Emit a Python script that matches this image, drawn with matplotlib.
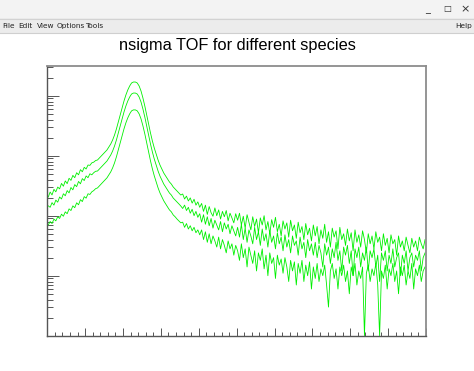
import matplotlib
matplotlib.use("Agg")
import matplotlib.pyplot as plt
from matplotlib.patches import Rectangle
from matplotlib.lines import Line2D
from matplotlib.ticker import MultipleLocator, LogLocator, NullFormatter
import numpy as np

title = "nsigma TOF for different species"
menu_items = ["File", "Edit", "View", "Options", "Tools"]
menu_x = [2, 18, 37, 57, 85]

x_min, x_max, n_bins = 0.0, 10.0, 200

species_a = [205, 248, 222, 275, 250, 300, 280, 345, 310, 380,
             342, 420, 388, 470, 430, 520, 480, 585, 540, 640,
             600, 700, 690, 760, 780, 830, 848, 916, 989, 1068,
             1153, 1245, 1396, 1567, 1828, 2210, 2790, 3650, 4770, 6240,
             8160, 10270, 12450, 14510, 16290, 16910, 16910, 16290, 14510, 11970,
             9160, 6730, 4770, 3370, 2390, 1759, 1343, 1068, 848, 700,
             600, 515, 459, 409, 365, 337, 301, 279, 258, 239,
             221, 230, 190, 212, 176, 198, 162, 188, 150, 170,
             138, 160, 118, 150, 105, 142, 112, 98, 135, 100,
             125, 88, 118, 96, 122, 82, 110, 92, 76, 108,
             84, 110, 70, 98, 62, 104, 78, 58, 96, 66,
             88, 52, 92, 70, 100, 58, 80, 50, 86, 64,
             94, 54, 72, 46, 82, 60, 76, 44, 84, 56,
             70, 42, 78, 52, 66, 40, 74, 48, 62, 38,
             70, 46, 66, 34, 58, 42, 72, 36, 54, 30,
             62, 44, 56, 28, 64, 40, 50, 32, 60, 38,
             52, 26, 58, 36, 48, 30, 56, 40, 24, 50,
             34, 46, 28, 54, 36, 44, 26, 50, 32, 42,
             24, 48, 34, 40, 22, 46, 30, 38, 26, 44,
             32, 24, 42, 30, 38, 26, 44, 34, 28, 40]

species_b = [146, 138, 165, 150, 182, 168, 205, 190, 232, 215,
             262, 240, 295, 270, 330, 305, 372, 340, 415, 385,
             460, 430, 500, 480, 520, 550, 555, 600, 648, 700,
             755, 815, 915, 1026, 1197, 1448, 1827, 2390, 3125, 4087,
             5345, 6727, 8155, 9504, 10670, 11076, 11076, 10670, 9504, 7840,
             6000, 4408, 3125, 2207, 1565, 1152, 880, 700, 555, 458,
             393, 337, 301, 268, 239, 221, 197, 183, 169, 157,
             145, 132, 150, 122, 138, 110, 128, 100, 118, 94,
             108, 78, 104, 72, 96, 68, 90, 62, 84, 70,
             58, 80, 54, 76, 60, 72, 50, 68, 56, 46,
             64, 44, 72, 40, 62, 36, 58, 46, 34, 64,
             40, 54, 32, 60, 38, 50, 30, 56, 36, 46,
             28, 52, 34, 44, 26, 48, 30, 40, 24, 46,
             32, 38, 22, 44, 28, 36, 20, 40, 26, 34,
             22, 36, 20, 32, 24, 14, 34, 22, 30, 16,
             28, 20, 36, 18, 26, 12, 30, 22, 32, 16,
             26, 10, 28, 20, 30, 14, 24, 18, 30, 12,
             26, 20, 28, 14, 22, 8, 24, 18, 26, 12,
             22, 16, 28, 14, 20, 24, 10, 22, 16, 26,
             12, 20, 24, 14, 22, 18, 26, 12, 20, 24]

species_c = [70, 80, 74, 88, 82, 96, 90, 106, 98, 116,
             108, 130, 122, 146, 136, 164, 152, 185, 172, 208,
             196, 232, 226, 250, 262, 282, 290, 314, 339, 366,
             395, 427, 479, 537, 627, 758, 957, 1252, 1636, 2140,
             2799, 3523, 4270, 4977, 5587, 5800, 5800, 5587, 4977, 4106,
             3142, 2308, 1636, 1156, 820, 603, 461, 366, 291, 240,
             206, 177, 157, 140, 125, 116, 103, 96, 88, 82,
             76, 78, 64, 74, 60, 68, 56, 64, 52, 58,
             48, 58, 40, 54, 36, 50, 34, 46, 38, 30,
             44, 28, 40, 32, 24, 38, 28, 34, 22, 32,
             26, 18, 34, 20, 28, 14, 30, 22, 16, 26,
             12, 24, 18, 28, 13, 22, 10, 24, 16, 20,
             9, 22, 15, 19, 11, 20, 14, 8, 18, 12,
             17, 7, 16, 11, 18, 8, 15, 10, 17, 6,
             14, 9, 16, 8, 13, 10, 15, 7, 3, 12,
             16, 9, 13, 6, 14, 10, 15, 8, 12, 5,
             14, 10, 16, 7, 12, 9, 14, 1, 11, 15,
             8, 13, 10, 16, 7, 1, 12, 9, 15, 6,
             13, 10, 16, 8, 12, 5, 14, 10, 15, 7,
             12, 9, 16, 6, 13, 10, 15, 8, 12, 14]

W, H = 474, 371
fig = plt.figure(figsize=(W / 100, H / 100), dpi=100)
fig.patch.set_facecolor("white")

def fy(y):
    return 1 - y / H

def fx(x):
    return x / W

# window chrome
fig.patches.append(Rectangle((0, fy(18)), 1, 18 / H, transform=fig.transFigure,
                             facecolor="#f3f3f3", edgecolor="none", zorder=0))
fig.patches.append(Rectangle((0, fy(33)), 1, 15 / H, transform=fig.transFigure,
                             facecolor="#ececec", edgecolor="none", zorder=0))
fig.lines.append(Line2D([0, 1], [fy(18.5), fy(18.5)], transform=fig.transFigure,
                        color="#d2d2d2", lw=0.8))
fig.lines.append(Line2D([0, 1], [fy(33), fy(33)], transform=fig.transFigure,
                        color="#cfcfcf", lw=0.8))
fig.text(fx(428), fy(9), "_", fontsize=7, color="#333333", ha="center", va="center",
         family="DejaVu Sans")
fig.text(fx(447), fy(9), "\u25a1", fontsize=6, color="#333333", ha="center", va="center",
         family="DejaVu Sans", fontweight="bold")
fig.text(fx(465), fy(9), "\u00d7", fontsize=8, color="#333333", ha="center", va="center",
         family="DejaVu Sans")
for name, xp in zip(menu_items, menu_x):
    fig.text(fx(xp), fy(26), name, fontsize=5.3, color="#222222", ha="left", va="center",
             family="DejaVu Sans")
fig.text(fx(472), fy(26), "Help", fontsize=5.3, color="#222222", ha="right", va="center",
         family="DejaVu Sans")

fig.text(0.5, fy(45.5), title, fontsize=11.8, ha="center", va="center",
         family="Liberation Sans", color="black")

# plot frame
left, right, top, bottom = 47.3, 426.0, 66.3, 335.7
ax = fig.add_axes([fx(left), fy(bottom), (right - left) / W, (bottom - top) / H])
ax.set_facecolor("white")

edges = np.linspace(x_min, x_max, n_bins + 1)
centers = 0.5 * (edges[:-1] + edges[1:])
for series in (species_a, species_b, species_c):
    ax.plot(centers, series, color="#00f000", lw=0.6)

ax.set_yscale("log")
ax.set_xlim(x_min, x_max)
ax.set_ylim(1, 10 ** 4.49)

ax.xaxis.set_major_locator(MultipleLocator(1))
ax.xaxis.set_minor_locator(MultipleLocator(0.2))
ax.yaxis.set_major_locator(LogLocator(base=10, numticks=20))
ax.yaxis.set_minor_locator(LogLocator(base=10, subs=np.arange(2, 10), numticks=20))
for axis in (ax.xaxis, ax.yaxis):
    axis.set_major_formatter(NullFormatter())
    axis.set_minor_formatter(NullFormatter())

ax.tick_params(axis="x", which="major", direction="in", length=5.8, width=0.7,
               color="#555555", top=False, bottom=True)
ax.tick_params(axis="x", which="minor", direction="in", length=2.9, width=0.7,
               color="#555555", top=False, bottom=True)
ax.tick_params(axis="y", which="major", direction="in", length=8.6, width=0.7,
               color="#555555", right=False, left=True)
ax.tick_params(axis="y", which="minor", direction="in", length=4.3, width=0.7,
               color="#555555", right=False, left=True)

for side in ("left", "bottom"):
    ax.spines[side].set_color("#555555")
    ax.spines[side].set_linewidth(1.0)
for side in ("top", "right"):
    ax.spines[side].set_color("#8c8c8c")
    ax.spines[side].set_linewidth(1.3)

fig.savefig("out.png", dpi=100)
